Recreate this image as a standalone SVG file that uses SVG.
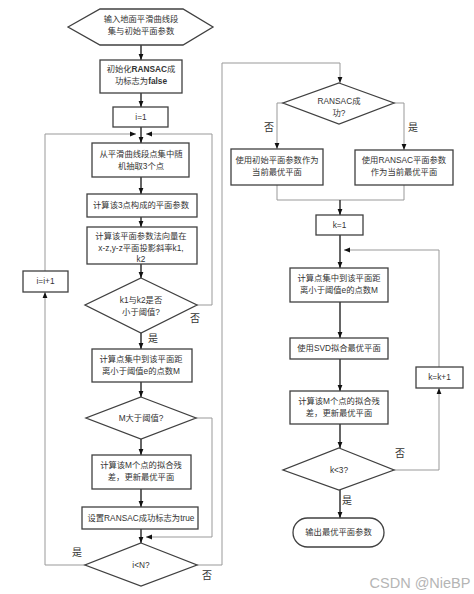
<svg xmlns="http://www.w3.org/2000/svg" width="474" height="594" viewBox="0 0 474 594">
<style>
.s{fill:#fff;stroke:#404040;stroke-width:1.3}
.t{font-family:"Liberation Sans","Noto Sans CJK SC",sans-serif;font-size:8.3px;fill:#333;text-anchor:middle}
.l{font-family:"Liberation Sans","Noto Sans CJK SC",sans-serif;font-size:10px;fill:#333;text-anchor:middle}
.m{fill:none;stroke:#333;stroke-width:1.5}
.g{fill:none;stroke:#999;stroke-width:1}
</style>
<defs>
<marker id="a" viewBox="0 0 10 10" refX="10" refY="5" markerWidth="6" markerHeight="6" orient="auto" markerUnits="userSpaceOnUse"><path d="M0,1 L10,5 L0,9 z" fill="#111"/></marker>
</defs>
<rect width="474" height="594" fill="#fff"/>
<g id="connectors">
<path class="m" d="M141,45 V60" marker-end="url(#a)"/>
<path class="m" d="M141,93 V107" marker-end="url(#a)"/>
<path class="m" d="M141,127 V143" marker-end="url(#a)"/>
<path class="m" d="M141,177 V194" marker-end="url(#a)"/>
<path class="m" d="M141,217 V227" marker-end="url(#a)"/>
<path class="m" d="M141,264 V278" marker-end="url(#a)"/>
<path class="m" d="M141,333 V349" marker-end="url(#a)"/>
<path class="m" d="M141,382 V397" marker-end="url(#a)"/>
<path class="m" d="M141,439 V455" marker-end="url(#a)"/>
<path class="m" d="M141,489 V507" marker-end="url(#a)"/>
<path class="m" d="M141,529 V543" marker-end="url(#a)"/>
<path class="g" d="M197,305 H212 V134 H146" marker-end="url(#a)"/>
<path class="g" d="M85,565 H45 V292" marker-end="url(#a)"/>
<path class="g" d="M45,271 V134 H136" marker-end="url(#a)"/>
<path class="g" d="M196,418 H212 V537 H146" marker-end="url(#a)"/>
<path class="g" d="M197,565 H222 V63 H340 V83" marker-end="url(#a)"/>
<path class="g" d="M283,103 H277 V149" marker-end="url(#a)"/>
<path class="g" d="M394,103 H404 V150" marker-end="url(#a)"/>
<path class="g" d="M277,185 V200 H404 V185"/>
<path class="m" d="M340,200 V215" marker-end="url(#a)"/>
<path class="m" d="M340,235 V268" marker-end="url(#a)"/>
<path class="m" d="M340,302 V338" marker-end="url(#a)"/>
<path class="m" d="M340,359 V391" marker-end="url(#a)"/>
<path class="m" d="M340,424 V448" marker-end="url(#a)"/>
<path class="m" d="M340,490 V518" marker-end="url(#a)"/>
<path class="g" d="M394,470 H439 V388" marker-end="url(#a)"/>
<path class="g" d="M439,367 V250 H344" marker-end="url(#a)"/>
</g>
<g id="labels">
<text class="l" x="195" y="322">否</text>
<text class="l" x="153" y="342">是</text>
<text class="l" x="77" y="556">是</text>
<text class="l" x="207" y="579">否</text>
<text class="l" x="269" y="131">否</text>
<text class="l" x="413" y="131">是</text>
<text class="l" x="400" y="457">否</text>
<text class="l" x="347" y="504">是</text>
</g>
<g id="n_input"><polygon class="s" points="68,27 100,9 183,9 213,27 183,45 100,45"/><text class="t" x="141" y="22">输入地面平滑曲线段</text><text class="t" x="141" y="34">集与初始平面参数</text></g>
<g id="n_init"><rect class="s" x="100" y="60" width="82" height="33"/><text class="t" x="141" y="72">初始化<tspan font-weight="bold">RANSAC</tspan>成</text><text class="t" x="141" y="84">功标志为<tspan font-weight="bold">false</tspan></text></g>
<g id="n_i1"><rect class="s" x="113" y="107" width="55" height="20"/><text class="t" x="141" y="120">i=1</text></g>
<g id="n_sample"><rect class="s" x="92" y="143" width="97" height="34"/><text class="t" x="141" y="157">从平滑曲线段点集中随</text><text class="t" x="141" y="169">机抽取3个点</text></g>
<g id="n_plane"><rect class="s" x="87" y="194" width="110" height="23"/><text class="t" x="141" y="208">计算该3点构成的平面参数</text></g>
<g id="n_slope"><rect class="s" x="87" y="227" width="110" height="37"/><text class="t" x="141" y="239">计算该平面参数法向量在</text><text class="t" x="141" y="251">x-z,y-z平面投影斜率k1,</text><text class="t" x="141" y="262">k2</text></g>
<g id="n_k12"><polygon class="s" points="141,278 197,305 141,333 85,305"/><text class="t" x="141" y="303">k1与k2是否</text><text class="t" x="141" y="315">小于阈值?</text></g>
<g id="n_ii"><rect class="s" x="23" y="271" width="45" height="21"/><text class="t" x="45.5" y="284">i=i+1</text></g>
<g id="n_countL"><rect class="s" x="92" y="349" width="100" height="33"/><text class="t" x="141" y="362">计算点集中到该平面距</text><text class="t" x="141" y="374">离小于阈值e的点数M</text></g>
<g id="n_M"><polygon class="s" points="141,397 196,418 141,439 86,418"/><text class="t" x="141" y="421">M大于阈值?</text></g>
<g id="n_resL"><rect class="s" x="92" y="455" width="99" height="34"/><text class="t" x="141" y="468">计算该M个点的拟合残</text><text class="t" x="141" y="480">差，更新最优平面</text></g>
<g id="n_true"><rect class="s" x="82" y="507" width="116" height="22"/><text class="t" x="141" y="521">设置RANSAC成功标志为true</text></g>
<g id="n_iN"><polygon class="s" points="141,543 197,565 141,586 85,565"/><text class="t" x="141" y="568">i&lt;N?</text></g>
<g id="n_ok"><polygon class="s" points="339,83 394,103 339,124 283,103"/><text class="t" x="339" y="104">RANSAC成</text><text class="t" x="339" y="116">功?</text></g>
<g id="n_useInit"><rect class="s" x="231" y="149" width="92" height="36"/><text class="t" x="277" y="163">使用初始平面参数作为</text><text class="t" x="277" y="175">当前最优平面</text></g>
<g id="n_useR"><rect class="s" x="355" y="150" width="98" height="35"/><text class="t" x="404" y="163">使用RANSAC平面参数</text><text class="t" x="404" y="175">作为当前最优平面</text></g>
<g id="n_k1"><rect class="s" x="316" y="215" width="47" height="20"/><text class="t" x="339.5" y="228">k=1</text></g>
<g id="n_countR"><rect class="s" x="290" y="268" width="98" height="34"/><text class="t" x="339" y="281">计算点集中到该平面距</text><text class="t" x="339" y="293">离小于阈值e的点数M</text></g>
<g id="n_svd"><rect class="s" x="290" y="338" width="98" height="21"/><text class="t" x="339" y="351">使用SVD拟合最优平面</text></g>
<g id="n_resR"><rect class="s" x="290" y="391" width="98" height="33"/><text class="t" x="339" y="404">计算该M个点的拟合残</text><text class="t" x="339" y="416">差，更新最优平面</text></g>
<g id="n_kk"><rect class="s" x="416" y="367" width="47" height="21"/><text class="t" x="439.5" y="380">k=k+1</text></g>
<g id="n_k3"><polygon class="s" points="339,448 394,470 339,490 283,470"/><text class="t" x="339" y="473">k&lt;3?</text></g>
<g id="n_out"><rect class="s" x="293" y="518" width="91" height="29" rx="14.5"/><text class="t" x="338.5" y="535">输出最优平面参数</text></g>
<text x="420" y="588" font-family="Liberation Sans,sans-serif" font-size="14.5" fill="#b5b5b5" text-anchor="middle">CSDN @NieBP</text>
</svg>
